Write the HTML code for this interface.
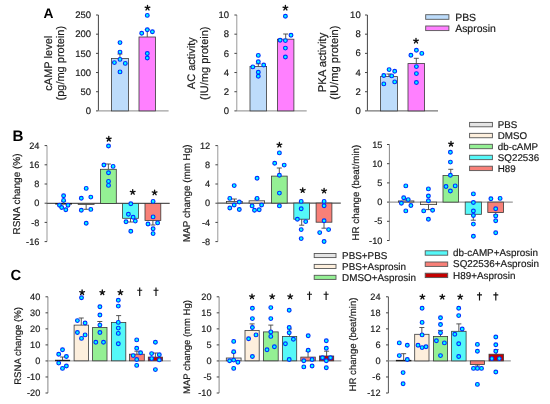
<!DOCTYPE html>
<html><head><meta charset="utf-8"><style>
html,body{margin:0;padding:0;background:#fff;}
body{width:550px;height:404px;overflow:hidden;}
svg{display:block;will-change:transform;}
text{font-family:"Liberation Sans", sans-serif;text-rendering:geometricPrecision;}
</style></head><body>
<svg width="550" height="404" viewBox="0 0 550 404" font-family='"Liberation Sans", sans-serif'>
<rect width="550" height="404" fill="#fff"/>
<text x="43.6" y="17.7" font-size="13.8" text-anchor="start" font-weight="bold" fill="#000" stroke="#000" stroke-width="0">A</text>
<text x="12.4" y="140.7" font-size="15.2" text-anchor="start" font-weight="bold" fill="#000" stroke="#000" stroke-width="0">B</text>
<text x="10.6" y="279.7" font-size="14.8" text-anchor="start" font-weight="bold" fill="#000" stroke="#000" stroke-width="0">C</text>
<line x1="98.4" y1="15.0" x2="98.4" y2="110.9" stroke="#444" stroke-width="1"/>
<line x1="96.0" y1="15.00" x2="98.4" y2="15.00" stroke="#444" stroke-width="1"/>
<text x="91.1" y="18.22" font-size="9.5" text-anchor="end" fill="#1a1a1a" stroke="#1a1a1a" stroke-width="0.18">250</text>
<line x1="96.0" y1="34.18" x2="98.4" y2="34.18" stroke="#444" stroke-width="1"/>
<text x="91.1" y="37.41" font-size="9.5" text-anchor="end" fill="#1a1a1a" stroke="#1a1a1a" stroke-width="0.18">200</text>
<line x1="96.0" y1="53.36" x2="98.4" y2="53.36" stroke="#444" stroke-width="1"/>
<text x="91.1" y="56.59" font-size="9.5" text-anchor="end" fill="#1a1a1a" stroke="#1a1a1a" stroke-width="0.18">150</text>
<line x1="96.0" y1="72.54" x2="98.4" y2="72.54" stroke="#444" stroke-width="1"/>
<text x="91.1" y="75.77" font-size="9.5" text-anchor="end" fill="#1a1a1a" stroke="#1a1a1a" stroke-width="0.18">100</text>
<line x1="96.0" y1="91.72" x2="98.4" y2="91.72" stroke="#444" stroke-width="1"/>
<text x="91.1" y="94.95" font-size="9.5" text-anchor="end" fill="#1a1a1a" stroke="#1a1a1a" stroke-width="0.18">50</text>
<line x1="96.0" y1="110.90" x2="98.4" y2="110.90" stroke="#444" stroke-width="1"/>
<text x="91.1" y="114.13" font-size="9.5" text-anchor="end" fill="#1a1a1a" stroke="#1a1a1a" stroke-width="0.18">0</text>
<line x1="98.4" y1="110.9" x2="168.6" y2="110.9" stroke="#a0a0a0" stroke-width="1.2"/>
<rect x="111.5" y="58.4" width="16.900000000000006" height="52.50" fill="#bddcfb" stroke="#3a3a3a" stroke-width="0.8"/>
<line x1="119.95" y1="58.4" x2="119.95" y2="54.0" stroke="#444" stroke-width="0.9"/>
<line x1="117.45" y1="54.0" x2="122.45" y2="54.0" stroke="#444" stroke-width="0.9"/>
<rect x="139.0" y="37.0" width="16.5" height="73.90" fill="#ff80ff" stroke="#3a3a3a" stroke-width="0.8"/>
<line x1="147.25" y1="37.0" x2="147.25" y2="29.7" stroke="#444" stroke-width="0.9"/>
<line x1="144.75" y1="29.7" x2="149.75" y2="29.7" stroke="#444" stroke-width="0.9"/>
<circle cx="120" cy="42.6" r="1.88" fill="#00ffff" stroke="#0030ff" stroke-width="1.15"/>
<circle cx="120" cy="52.1" r="1.88" fill="#00ffff" stroke="#0030ff" stroke-width="1.15"/>
<circle cx="120" cy="59.4" r="1.88" fill="#00ffff" stroke="#0030ff" stroke-width="1.15"/>
<circle cx="114.4" cy="62.6" r="1.88" fill="#00ffff" stroke="#0030ff" stroke-width="1.15"/>
<circle cx="125.3" cy="63.4" r="1.88" fill="#00ffff" stroke="#0030ff" stroke-width="1.15"/>
<circle cx="120" cy="71.9" r="1.88" fill="#00ffff" stroke="#0030ff" stroke-width="1.15"/>
<circle cx="147.3" cy="15.4" r="1.88" fill="#00ffff" stroke="#0030ff" stroke-width="1.15"/>
<circle cx="147.3" cy="29.7" r="1.88" fill="#00ffff" stroke="#0030ff" stroke-width="1.15"/>
<circle cx="141.7" cy="33.3" r="1.88" fill="#00ffff" stroke="#0030ff" stroke-width="1.15"/>
<circle cx="152.4" cy="31.7" r="1.88" fill="#00ffff" stroke="#0030ff" stroke-width="1.15"/>
<circle cx="147.3" cy="53.5" r="1.88" fill="#00ffff" stroke="#0030ff" stroke-width="1.15"/>
<circle cx="147.3" cy="58" r="1.88" fill="#00ffff" stroke="#0030ff" stroke-width="1.15"/>
<path d="M147.50 7.90L147.50 5.40M147.50 7.90L149.88 7.13M147.50 7.90L148.97 9.92M147.50 7.90L146.03 9.92M147.50 7.90L145.12 7.13" stroke="#111" stroke-width="1.35" stroke-linecap="round" fill="none"/>
<text x="51.6" y="63.2" font-size="11" text-anchor="middle" fill="#1a1a1a" stroke="#1a1a1a" stroke-width="0.18" transform="rotate(-90 51.6 63.2)">cAMP level</text>
<text x="63.8" y="63.2" font-size="11" text-anchor="middle" fill="#1a1a1a" stroke="#1a1a1a" stroke-width="0.18" transform="rotate(-90 63.8 63.2)">(pg/mg protein)</text>
<line x1="236.8" y1="15.0" x2="236.8" y2="110.9" stroke="#999" stroke-width="1"/>
<line x1="234.4" y1="15.00" x2="236.8" y2="15.00" stroke="#444" stroke-width="1"/>
<text x="229.1" y="18.22" font-size="9.5" text-anchor="end" fill="#1a1a1a" stroke="#1a1a1a" stroke-width="0.18">10</text>
<line x1="234.4" y1="34.18" x2="236.8" y2="34.18" stroke="#444" stroke-width="1"/>
<text x="229.1" y="37.41" font-size="9.5" text-anchor="end" fill="#1a1a1a" stroke="#1a1a1a" stroke-width="0.18">8</text>
<line x1="234.4" y1="53.36" x2="236.8" y2="53.36" stroke="#444" stroke-width="1"/>
<text x="229.1" y="56.59" font-size="9.5" text-anchor="end" fill="#1a1a1a" stroke="#1a1a1a" stroke-width="0.18">6</text>
<line x1="234.4" y1="72.54" x2="236.8" y2="72.54" stroke="#444" stroke-width="1"/>
<text x="229.1" y="75.77" font-size="9.5" text-anchor="end" fill="#1a1a1a" stroke="#1a1a1a" stroke-width="0.18">4</text>
<line x1="234.4" y1="91.72" x2="236.8" y2="91.72" stroke="#444" stroke-width="1"/>
<text x="229.1" y="94.95" font-size="9.5" text-anchor="end" fill="#1a1a1a" stroke="#1a1a1a" stroke-width="0.18">2</text>
<line x1="234.4" y1="110.90" x2="236.8" y2="110.90" stroke="#444" stroke-width="1"/>
<text x="229.1" y="114.13" font-size="9.5" text-anchor="end" fill="#1a1a1a" stroke="#1a1a1a" stroke-width="0.18">0</text>
<line x1="236.8" y1="110.9" x2="306.7" y2="110.9" stroke="#a0a0a0" stroke-width="1.2"/>
<rect x="250.0" y="66.5" width="16.600000000000023" height="44.40" fill="#bddcfb" stroke="#3a3a3a" stroke-width="0.8"/>
<line x1="258.3" y1="66.5" x2="258.3" y2="63.8" stroke="#444" stroke-width="0.9"/>
<line x1="255.8" y1="63.8" x2="260.8" y2="63.8" stroke="#444" stroke-width="0.9"/>
<rect x="277.5" y="39.2" width="16.399999999999977" height="71.70" fill="#ff80ff" stroke="#3a3a3a" stroke-width="0.8"/>
<line x1="285.7" y1="39.2" x2="285.7" y2="34.0" stroke="#444" stroke-width="0.9"/>
<line x1="283.2" y1="34.0" x2="288.2" y2="34.0" stroke="#444" stroke-width="0.9"/>
<circle cx="258.3" cy="55.4" r="1.88" fill="#00ffff" stroke="#0030ff" stroke-width="1.15"/>
<circle cx="258.3" cy="61.8" r="1.88" fill="#00ffff" stroke="#0030ff" stroke-width="1.15"/>
<circle cx="252.8" cy="66.9" r="1.88" fill="#00ffff" stroke="#0030ff" stroke-width="1.15"/>
<circle cx="263.7" cy="65" r="1.88" fill="#00ffff" stroke="#0030ff" stroke-width="1.15"/>
<circle cx="258.3" cy="72.3" r="1.88" fill="#00ffff" stroke="#0030ff" stroke-width="1.15"/>
<circle cx="258.3" cy="76.2" r="1.88" fill="#00ffff" stroke="#0030ff" stroke-width="1.15"/>
<circle cx="285.4" cy="16.2" r="1.88" fill="#00ffff" stroke="#0030ff" stroke-width="1.15"/>
<circle cx="291" cy="35.2" r="1.88" fill="#00ffff" stroke="#0030ff" stroke-width="1.15"/>
<circle cx="280.1" cy="40.2" r="1.88" fill="#00ffff" stroke="#0030ff" stroke-width="1.15"/>
<circle cx="285.4" cy="40.6" r="1.88" fill="#00ffff" stroke="#0030ff" stroke-width="1.15"/>
<circle cx="285.4" cy="48.1" r="1.88" fill="#00ffff" stroke="#0030ff" stroke-width="1.15"/>
<circle cx="285.4" cy="57" r="1.88" fill="#00ffff" stroke="#0030ff" stroke-width="1.15"/>
<path d="M285.40 7.90L285.40 5.40M285.40 7.90L287.78 7.13M285.40 7.90L286.87 9.92M285.40 7.90L283.93 9.92M285.40 7.90L283.02 7.13" stroke="#111" stroke-width="1.35" stroke-linecap="round" fill="none"/>
<text x="195.5" y="63.2" font-size="11" text-anchor="middle" fill="#1a1a1a" stroke="#1a1a1a" stroke-width="0.18" transform="rotate(-90 195.5 63.2)">AC activity</text>
<text x="208.4" y="63.2" font-size="11" text-anchor="middle" fill="#1a1a1a" stroke="#1a1a1a" stroke-width="0.18" transform="rotate(-90 208.4 63.2)">(IU/mg protein)</text>
<line x1="367.4" y1="15.0" x2="367.4" y2="110.9" stroke="#444" stroke-width="1"/>
<line x1="365.0" y1="15.00" x2="367.4" y2="15.00" stroke="#444" stroke-width="1"/>
<text x="360.7" y="18.02" font-size="9.5" text-anchor="end" fill="#1a1a1a" stroke="#1a1a1a" stroke-width="0.18">10</text>
<line x1="365.0" y1="34.18" x2="367.4" y2="34.18" stroke="#444" stroke-width="1"/>
<text x="360.7" y="37.2" font-size="9.5" text-anchor="end" fill="#1a1a1a" stroke="#1a1a1a" stroke-width="0.18">8</text>
<line x1="365.0" y1="53.36" x2="367.4" y2="53.36" stroke="#444" stroke-width="1"/>
<text x="360.7" y="56.38" font-size="9.5" text-anchor="end" fill="#1a1a1a" stroke="#1a1a1a" stroke-width="0.18">6</text>
<line x1="365.0" y1="72.54" x2="367.4" y2="72.54" stroke="#444" stroke-width="1"/>
<text x="360.7" y="75.56" font-size="9.5" text-anchor="end" fill="#1a1a1a" stroke="#1a1a1a" stroke-width="0.18">4</text>
<line x1="365.0" y1="91.72" x2="367.4" y2="91.72" stroke="#444" stroke-width="1"/>
<text x="360.7" y="94.75" font-size="9.5" text-anchor="end" fill="#1a1a1a" stroke="#1a1a1a" stroke-width="0.18">2</text>
<line x1="365.0" y1="110.90" x2="367.4" y2="110.90" stroke="#444" stroke-width="1"/>
<text x="360.7" y="113.93" font-size="9.5" text-anchor="end" fill="#1a1a1a" stroke="#1a1a1a" stroke-width="0.18">0</text>
<line x1="367.4" y1="110.9" x2="438.0" y2="110.9" stroke="#777" stroke-width="1.2"/>
<rect x="380.5" y="76.6" width="16.899999999999977" height="34.30" fill="#bddcfb" stroke="#3a3a3a" stroke-width="0.8"/>
<line x1="388.95" y1="76.6" x2="388.95" y2="74.0" stroke="#444" stroke-width="0.9"/>
<line x1="386.45" y1="74.0" x2="391.45" y2="74.0" stroke="#444" stroke-width="0.9"/>
<rect x="408.0" y="63.6" width="16.600000000000023" height="47.30" fill="#ff80ff" stroke="#3a3a3a" stroke-width="0.8"/>
<line x1="416.3" y1="63.6" x2="416.3" y2="58.3" stroke="#444" stroke-width="0.9"/>
<line x1="413.8" y1="58.3" x2="418.8" y2="58.3" stroke="#444" stroke-width="0.9"/>
<circle cx="389.1" cy="69.6" r="1.88" fill="#00ffff" stroke="#0030ff" stroke-width="1.15"/>
<circle cx="394.7" cy="71.2" r="1.88" fill="#00ffff" stroke="#0030ff" stroke-width="1.15"/>
<circle cx="383.8" cy="75.5" r="1.88" fill="#00ffff" stroke="#0030ff" stroke-width="1.15"/>
<circle cx="391.7" cy="75.9" r="1.88" fill="#00ffff" stroke="#0030ff" stroke-width="1.15"/>
<circle cx="394.7" cy="81.9" r="1.88" fill="#00ffff" stroke="#0030ff" stroke-width="1.15"/>
<circle cx="383.8" cy="83.9" r="1.88" fill="#00ffff" stroke="#0030ff" stroke-width="1.15"/>
<circle cx="416.4" cy="50.2" r="1.88" fill="#00ffff" stroke="#0030ff" stroke-width="1.15"/>
<circle cx="421.8" cy="53.4" r="1.88" fill="#00ffff" stroke="#0030ff" stroke-width="1.15"/>
<circle cx="410.9" cy="55.3" r="1.88" fill="#00ffff" stroke="#0030ff" stroke-width="1.15"/>
<circle cx="416.4" cy="66.6" r="1.88" fill="#00ffff" stroke="#0030ff" stroke-width="1.15"/>
<circle cx="416.4" cy="73.6" r="1.88" fill="#00ffff" stroke="#0030ff" stroke-width="1.15"/>
<circle cx="416.4" cy="82.5" r="1.88" fill="#00ffff" stroke="#0030ff" stroke-width="1.15"/>
<path d="M416.00 40.90L416.00 38.40M416.00 40.90L418.38 40.13M416.00 40.90L417.47 42.92M416.00 40.90L414.53 42.92M416.00 40.90L413.62 40.13" stroke="#111" stroke-width="1.35" stroke-linecap="round" fill="none"/>
<text x="326.2" y="62.5" font-size="11.3" text-anchor="middle" fill="#1a1a1a" stroke="#1a1a1a" stroke-width="0.18" transform="rotate(-90 326.2 62.5)">PKA activity</text>
<text x="338.1" y="62.6" font-size="11.15" text-anchor="middle" fill="#1a1a1a" stroke="#1a1a1a" stroke-width="0.18" transform="rotate(-90 338.1 62.6)">(IU/mg protein)</text>
<rect x="425.7" y="14.7" width="23.2" height="4.6" fill="#bddcfb" stroke="#555" stroke-width="0.9"/>
<text x="455.2" y="20.7" font-size="10.45" text-anchor="start" fill="#1a1a1a" stroke="#1a1a1a" stroke-width="0.18">PBS</text>
<rect x="425.7" y="26.0" width="23.2" height="4.6" fill="#ff80ff" stroke="#555" stroke-width="0.9"/>
<text x="455.2" y="32.0" font-size="10.45" text-anchor="start" fill="#1a1a1a" stroke="#1a1a1a" stroke-width="0.18">Asprosin</text>
<line x1="47.0" y1="145.6" x2="47.0" y2="241.6" stroke="#999" stroke-width="1"/>
<line x1="44.6" y1="145.60" x2="47.0" y2="145.60" stroke="#444" stroke-width="1"/>
<text x="39.4" y="148.72" font-size="9.2" text-anchor="end" fill="#1a1a1a" stroke="#1a1a1a" stroke-width="0.18">24</text>
<line x1="44.6" y1="164.80" x2="47.0" y2="164.80" stroke="#444" stroke-width="1"/>
<text x="39.4" y="167.92" font-size="9.2" text-anchor="end" fill="#1a1a1a" stroke="#1a1a1a" stroke-width="0.18">16</text>
<line x1="44.6" y1="184.00" x2="47.0" y2="184.00" stroke="#444" stroke-width="1"/>
<text x="39.4" y="187.12" font-size="9.2" text-anchor="end" fill="#1a1a1a" stroke="#1a1a1a" stroke-width="0.18">8</text>
<line x1="44.6" y1="203.20" x2="47.0" y2="203.20" stroke="#444" stroke-width="1"/>
<text x="39.4" y="206.32" font-size="9.2" text-anchor="end" fill="#1a1a1a" stroke="#1a1a1a" stroke-width="0.18">0</text>
<line x1="44.6" y1="222.40" x2="47.0" y2="222.40" stroke="#444" stroke-width="1"/>
<text x="39.4" y="225.52" font-size="9.2" text-anchor="end" fill="#1a1a1a" stroke="#1a1a1a" stroke-width="0.18">-8</text>
<line x1="44.6" y1="241.60" x2="47.0" y2="241.60" stroke="#444" stroke-width="1"/>
<text x="39.4" y="244.72" font-size="9.2" text-anchor="end" fill="#1a1a1a" stroke="#1a1a1a" stroke-width="0.18">-16</text>
<line x1="47.0" y1="203.4" x2="169.7" y2="203.4" stroke="#555" stroke-width="1.2"/>
<rect x="55.6" y="203.4" width="15.999999999999993" height="0.70" fill="#e4e4e4" stroke="#1a1a1a" stroke-width="0.8"/>
<line x1="63.599999999999994" y1="204.1" x2="63.599999999999994" y2="201.2" stroke="#444" stroke-width="0.9"/>
<line x1="61.099999999999994" y1="201.2" x2="66.1" y2="201.2" stroke="#444" stroke-width="0.9"/>
<rect x="78.2" y="203.4" width="15.899999999999991" height="1.00" fill="#fdefdd" stroke="#3a3a3a" stroke-width="0.8"/>
<line x1="86.15" y1="204.4" x2="86.15" y2="209.3" stroke="#444" stroke-width="0.9"/>
<line x1="83.65" y1="209.3" x2="88.65" y2="209.3" stroke="#444" stroke-width="0.9"/>
<rect x="100.4" y="169.3" width="15.899999999999991" height="34.10" fill="#94f094" stroke="#3a3a3a" stroke-width="0.8"/>
<line x1="108.35" y1="169.3" x2="108.35" y2="164.0" stroke="#444" stroke-width="0.9"/>
<line x1="105.85" y1="164.0" x2="110.85" y2="164.0" stroke="#444" stroke-width="0.9"/>
<rect x="122.6" y="203.4" width="15.900000000000006" height="14.90" fill="#55f8f8" stroke="#3a3a3a" stroke-width="0.8"/>
<line x1="130.55" y1="218.3" x2="130.55" y2="222.0" stroke="#444" stroke-width="0.9"/>
<line x1="128.05" y1="222.0" x2="133.05" y2="222.0" stroke="#444" stroke-width="0.9"/>
<rect x="145.0" y="203.4" width="15.800000000000011" height="17.20" fill="#f88078" stroke="#3a3a3a" stroke-width="0.8"/>
<line x1="152.9" y1="220.6" x2="152.9" y2="225.0" stroke="#444" stroke-width="0.9"/>
<line x1="150.4" y1="225.0" x2="155.4" y2="225.0" stroke="#444" stroke-width="0.9"/>
<circle cx="63.6" cy="195.8" r="1.88" fill="#00ffff" stroke="#0030ff" stroke-width="1.15"/>
<circle cx="63.6" cy="200.4" r="1.88" fill="#00ffff" stroke="#0030ff" stroke-width="1.15"/>
<circle cx="59.5" cy="205.3" r="1.88" fill="#00ffff" stroke="#0030ff" stroke-width="1.15"/>
<circle cx="68" cy="205.3" r="1.88" fill="#00ffff" stroke="#0030ff" stroke-width="1.15"/>
<circle cx="61.7" cy="207.5" r="1.88" fill="#00ffff" stroke="#0030ff" stroke-width="1.15"/>
<circle cx="65.8" cy="209.7" r="1.88" fill="#00ffff" stroke="#0030ff" stroke-width="1.15"/>
<circle cx="86.2" cy="188.4" r="1.88" fill="#00ffff" stroke="#0030ff" stroke-width="1.15"/>
<circle cx="81.3" cy="198.2" r="1.88" fill="#00ffff" stroke="#0030ff" stroke-width="1.15"/>
<circle cx="90.8" cy="197.1" r="1.88" fill="#00ffff" stroke="#0030ff" stroke-width="1.15"/>
<circle cx="81.3" cy="210.2" r="1.88" fill="#00ffff" stroke="#0030ff" stroke-width="1.15"/>
<circle cx="90.8" cy="209.4" r="1.88" fill="#00ffff" stroke="#0030ff" stroke-width="1.15"/>
<circle cx="86.2" cy="223.3" r="1.88" fill="#00ffff" stroke="#0030ff" stroke-width="1.15"/>
<circle cx="108.5" cy="146" r="1.88" fill="#00ffff" stroke="#0030ff" stroke-width="1.15"/>
<circle cx="103.9" cy="165" r="1.88" fill="#00ffff" stroke="#0030ff" stroke-width="1.15"/>
<circle cx="113.1" cy="166.4" r="1.88" fill="#00ffff" stroke="#0030ff" stroke-width="1.15"/>
<circle cx="108.5" cy="172.7" r="1.88" fill="#00ffff" stroke="#0030ff" stroke-width="1.15"/>
<circle cx="108.5" cy="181.4" r="1.88" fill="#00ffff" stroke="#0030ff" stroke-width="1.15"/>
<circle cx="108.5" cy="185.4" r="1.88" fill="#00ffff" stroke="#0030ff" stroke-width="1.15"/>
<circle cx="130.8" cy="203.8" r="1.88" fill="#00ffff" stroke="#0030ff" stroke-width="1.15"/>
<circle cx="128.4" cy="214.3" r="1.88" fill="#00ffff" stroke="#0030ff" stroke-width="1.15"/>
<circle cx="133.1" cy="217.3" r="1.88" fill="#00ffff" stroke="#0030ff" stroke-width="1.15"/>
<circle cx="126.0" cy="221.8" r="1.88" fill="#00ffff" stroke="#0030ff" stroke-width="1.15"/>
<circle cx="135.3" cy="221.1" r="1.88" fill="#00ffff" stroke="#0030ff" stroke-width="1.15"/>
<circle cx="130.8" cy="231.2" r="1.88" fill="#00ffff" stroke="#0030ff" stroke-width="1.15"/>
<circle cx="153.1" cy="201.4" r="1.88" fill="#00ffff" stroke="#0030ff" stroke-width="1.15"/>
<circle cx="153.1" cy="216.9" r="1.88" fill="#00ffff" stroke="#0030ff" stroke-width="1.15"/>
<circle cx="148" cy="224" r="1.88" fill="#00ffff" stroke="#0030ff" stroke-width="1.15"/>
<circle cx="157.6" cy="222.9" r="1.88" fill="#00ffff" stroke="#0030ff" stroke-width="1.15"/>
<circle cx="153.1" cy="228.8" r="1.88" fill="#00ffff" stroke="#0030ff" stroke-width="1.15"/>
<circle cx="153.1" cy="233.6" r="1.88" fill="#00ffff" stroke="#0030ff" stroke-width="1.15"/>
<path d="M108.80 139.00L108.80 136.50M108.80 139.00L111.18 138.23M108.80 139.00L110.27 141.02M108.80 139.00L107.33 141.02M108.80 139.00L106.42 138.23" stroke="#111" stroke-width="1.35" stroke-linecap="round" fill="none"/>
<path d="M132.70 192.20L132.70 189.70M132.70 192.20L135.08 191.43M132.70 192.20L134.17 194.22M132.70 192.20L131.23 194.22M132.70 192.20L130.32 191.43" stroke="#111" stroke-width="1.35" stroke-linecap="round" fill="none"/>
<path d="M154.60 192.70L154.60 190.20M154.60 192.70L156.98 191.93M154.60 192.70L156.07 194.72M154.60 192.70L153.13 194.72M154.60 192.70L152.22 191.93" stroke="#111" stroke-width="1.35" stroke-linecap="round" fill="none"/>
<text x="20.0" y="194.0" font-size="10" text-anchor="middle" fill="#1a1a1a" stroke="#1a1a1a" stroke-width="0.18" transform="rotate(-90 20.0 194.0)">RSNA change (%)</text>
<line x1="217.8" y1="145.6" x2="217.8" y2="241.6" stroke="#999" stroke-width="1"/>
<line x1="215.4" y1="145.60" x2="217.8" y2="145.60" stroke="#444" stroke-width="1"/>
<text x="210.2" y="148.72" font-size="9.2" text-anchor="end" fill="#1a1a1a" stroke="#1a1a1a" stroke-width="0.18">12</text>
<line x1="215.4" y1="164.80" x2="217.8" y2="164.80" stroke="#444" stroke-width="1"/>
<text x="210.2" y="167.92" font-size="9.2" text-anchor="end" fill="#1a1a1a" stroke="#1a1a1a" stroke-width="0.18">8</text>
<line x1="215.4" y1="184.00" x2="217.8" y2="184.00" stroke="#444" stroke-width="1"/>
<text x="210.2" y="187.12" font-size="9.2" text-anchor="end" fill="#1a1a1a" stroke="#1a1a1a" stroke-width="0.18">4</text>
<line x1="215.4" y1="203.20" x2="217.8" y2="203.20" stroke="#444" stroke-width="1"/>
<text x="210.2" y="206.32" font-size="9.2" text-anchor="end" fill="#1a1a1a" stroke="#1a1a1a" stroke-width="0.18">0</text>
<line x1="215.4" y1="222.40" x2="217.8" y2="222.40" stroke="#444" stroke-width="1"/>
<text x="210.2" y="225.52" font-size="9.2" text-anchor="end" fill="#1a1a1a" stroke="#1a1a1a" stroke-width="0.18">-4</text>
<line x1="215.4" y1="241.60" x2="217.8" y2="241.60" stroke="#444" stroke-width="1"/>
<text x="210.2" y="244.72" font-size="9.2" text-anchor="end" fill="#1a1a1a" stroke="#1a1a1a" stroke-width="0.18">-8</text>
<line x1="217.8" y1="203.1" x2="340.8" y2="203.1" stroke="#555" stroke-width="1.2"/>
<rect x="226.5" y="201.4" width="15.800000000000011" height="1.70" fill="#e4e4e4" stroke="#3a3a3a" stroke-width="0.8"/>
<line x1="234.4" y1="201.4" x2="234.4" y2="199.0" stroke="#444" stroke-width="0.9"/>
<line x1="231.9" y1="199.0" x2="236.9" y2="199.0" stroke="#444" stroke-width="0.9"/>
<rect x="249.1" y="200.8" width="15.500000000000028" height="2.30" fill="#fdefdd" stroke="#3a3a3a" stroke-width="0.8"/>
<line x1="256.85" y1="200.8" x2="256.85" y2="199.0" stroke="#444" stroke-width="0.9"/>
<line x1="254.35000000000002" y1="199.0" x2="259.35" y2="199.0" stroke="#444" stroke-width="0.9"/>
<rect x="271.4" y="176.1" width="15.800000000000011" height="27.00" fill="#94f094" stroke="#3a3a3a" stroke-width="0.8"/>
<line x1="279.29999999999995" y1="176.1" x2="279.29999999999995" y2="168.0" stroke="#444" stroke-width="0.9"/>
<line x1="276.79999999999995" y1="168.0" x2="281.79999999999995" y2="168.0" stroke="#444" stroke-width="0.9"/>
<rect x="293.8" y="203.1" width="15.800000000000011" height="16.10" fill="#55f8f8" stroke="#3a3a3a" stroke-width="0.8"/>
<line x1="301.70000000000005" y1="219.2" x2="301.70000000000005" y2="225.2" stroke="#444" stroke-width="0.9"/>
<line x1="299.20000000000005" y1="225.2" x2="304.20000000000005" y2="225.2" stroke="#444" stroke-width="0.9"/>
<rect x="316.1" y="203.1" width="15.799999999999955" height="19.10" fill="#f88078" stroke="#3a3a3a" stroke-width="0.8"/>
<line x1="324.0" y1="222.2" x2="324.0" y2="228.2" stroke="#444" stroke-width="0.9"/>
<line x1="321.5" y1="228.2" x2="326.5" y2="228.2" stroke="#444" stroke-width="0.9"/>
<circle cx="234.2" cy="185.6" r="1.88" fill="#00ffff" stroke="#0030ff" stroke-width="1.15"/>
<circle cx="229.8" cy="198.4" r="1.88" fill="#00ffff" stroke="#0030ff" stroke-width="1.15"/>
<circle cx="239.3" cy="202" r="1.88" fill="#00ffff" stroke="#0030ff" stroke-width="1.15"/>
<circle cx="234.2" cy="205" r="1.88" fill="#00ffff" stroke="#0030ff" stroke-width="1.15"/>
<circle cx="229.8" cy="208" r="1.88" fill="#00ffff" stroke="#0030ff" stroke-width="1.15"/>
<circle cx="239.3" cy="209.5" r="1.88" fill="#00ffff" stroke="#0030ff" stroke-width="1.15"/>
<circle cx="257.1" cy="178.2" r="1.88" fill="#00ffff" stroke="#0030ff" stroke-width="1.15"/>
<circle cx="257.1" cy="198.4" r="1.88" fill="#00ffff" stroke="#0030ff" stroke-width="1.15"/>
<circle cx="252.1" cy="205.9" r="1.88" fill="#00ffff" stroke="#0030ff" stroke-width="1.15"/>
<circle cx="261.6" cy="205" r="1.88" fill="#00ffff" stroke="#0030ff" stroke-width="1.15"/>
<circle cx="254.5" cy="210.3" r="1.88" fill="#00ffff" stroke="#0030ff" stroke-width="1.15"/>
<circle cx="259.2" cy="209.8" r="1.88" fill="#00ffff" stroke="#0030ff" stroke-width="1.15"/>
<circle cx="279.4" cy="152.9" r="1.88" fill="#00ffff" stroke="#0030ff" stroke-width="1.15"/>
<circle cx="274.7" cy="163.3" r="1.88" fill="#00ffff" stroke="#0030ff" stroke-width="1.15"/>
<circle cx="284.2" cy="165.1" r="1.88" fill="#00ffff" stroke="#0030ff" stroke-width="1.15"/>
<circle cx="279.4" cy="175.2" r="1.88" fill="#00ffff" stroke="#0030ff" stroke-width="1.15"/>
<circle cx="279.4" cy="193.1" r="1.88" fill="#00ffff" stroke="#0030ff" stroke-width="1.15"/>
<circle cx="279.4" cy="205.9" r="1.88" fill="#00ffff" stroke="#0030ff" stroke-width="1.15"/>
<circle cx="301.2" cy="201.4" r="1.88" fill="#00ffff" stroke="#0030ff" stroke-width="1.15"/>
<circle cx="301.2" cy="208.8" r="1.88" fill="#00ffff" stroke="#0030ff" stroke-width="1.15"/>
<circle cx="297.4" cy="219.2" r="1.88" fill="#00ffff" stroke="#0030ff" stroke-width="1.15"/>
<circle cx="305.7" cy="221.6" r="1.88" fill="#00ffff" stroke="#0030ff" stroke-width="1.15"/>
<circle cx="301.2" cy="229.6" r="1.88" fill="#00ffff" stroke="#0030ff" stroke-width="1.15"/>
<circle cx="301.2" cy="238.6" r="1.88" fill="#00ffff" stroke="#0030ff" stroke-width="1.15"/>
<circle cx="324.1" cy="201.4" r="1.88" fill="#00ffff" stroke="#0030ff" stroke-width="1.15"/>
<circle cx="324.1" cy="205.8" r="1.88" fill="#00ffff" stroke="#0030ff" stroke-width="1.15"/>
<circle cx="324.1" cy="220.7" r="1.88" fill="#00ffff" stroke="#0030ff" stroke-width="1.15"/>
<circle cx="328.6" cy="229.6" r="1.88" fill="#00ffff" stroke="#0030ff" stroke-width="1.15"/>
<circle cx="319.7" cy="232.6" r="1.88" fill="#00ffff" stroke="#0030ff" stroke-width="1.15"/>
<circle cx="324.1" cy="241.5" r="1.88" fill="#00ffff" stroke="#0030ff" stroke-width="1.15"/>
<path d="M279.40 144.90L279.40 142.40M279.40 144.90L281.78 144.13M279.40 144.90L280.87 146.92M279.40 144.90L277.93 146.92M279.40 144.90L277.02 144.13" stroke="#111" stroke-width="1.35" stroke-linecap="round" fill="none"/>
<path d="M302.70 190.30L302.70 187.80M302.70 190.30L305.08 189.53M302.70 190.30L304.17 192.32M302.70 190.30L301.23 192.32M302.70 190.30L300.32 189.53" stroke="#111" stroke-width="1.35" stroke-linecap="round" fill="none"/>
<path d="M324.10 190.80L324.10 188.30M324.10 190.80L326.48 190.03M324.10 190.80L325.57 192.82M324.10 190.80L322.63 192.82M324.10 190.80L321.72 190.03" stroke="#111" stroke-width="1.35" stroke-linecap="round" fill="none"/>
<text x="190.0" y="193.2" font-size="9.9" text-anchor="middle" fill="#1a1a1a" stroke="#1a1a1a" stroke-width="0.18" transform="rotate(-90 190.0 193.2)">MAP change (mm Hg)</text>
<line x1="389.4" y1="144.5" x2="389.4" y2="240.5" stroke="#888" stroke-width="1"/>
<line x1="387.0" y1="144.50" x2="389.4" y2="144.50" stroke="#444" stroke-width="1"/>
<text x="382.4" y="147.62" font-size="9.2" text-anchor="end" fill="#1a1a1a" stroke="#1a1a1a" stroke-width="0.18">15</text>
<line x1="387.0" y1="163.70" x2="389.4" y2="163.70" stroke="#444" stroke-width="1"/>
<text x="382.4" y="166.82" font-size="9.2" text-anchor="end" fill="#1a1a1a" stroke="#1a1a1a" stroke-width="0.18">10</text>
<line x1="387.0" y1="182.90" x2="389.4" y2="182.90" stroke="#444" stroke-width="1"/>
<text x="382.4" y="186.02" font-size="9.2" text-anchor="end" fill="#1a1a1a" stroke="#1a1a1a" stroke-width="0.18">5</text>
<line x1="387.0" y1="202.10" x2="389.4" y2="202.10" stroke="#444" stroke-width="1"/>
<text x="382.4" y="205.22" font-size="9.2" text-anchor="end" fill="#1a1a1a" stroke="#1a1a1a" stroke-width="0.18">0</text>
<line x1="387.0" y1="221.30" x2="389.4" y2="221.30" stroke="#444" stroke-width="1"/>
<text x="382.4" y="224.42" font-size="9.2" text-anchor="end" fill="#1a1a1a" stroke="#1a1a1a" stroke-width="0.18">-5</text>
<line x1="387.0" y1="240.50" x2="389.4" y2="240.50" stroke="#444" stroke-width="1"/>
<text x="382.4" y="243.62" font-size="9.2" text-anchor="end" fill="#1a1a1a" stroke="#1a1a1a" stroke-width="0.18">-10</text>
<line x1="389.4" y1="202.1" x2="512.8" y2="202.1" stroke="#999" stroke-width="1.2"/>
<rect x="398.4" y="200.9" width="15.5" height="1.20" fill="#e4e4e4" stroke="#3a3a3a" stroke-width="0.8"/>
<line x1="406.15" y1="200.9" x2="406.15" y2="199.0" stroke="#444" stroke-width="0.9"/>
<line x1="403.65" y1="199.0" x2="408.65" y2="199.0" stroke="#444" stroke-width="0.9"/>
<rect x="420.4" y="202.1" width="16.200000000000045" height="2.50" fill="#fdefdd" stroke="#3a3a3a" stroke-width="0.8"/>
<line x1="428.5" y1="204.6" x2="428.5" y2="209.6" stroke="#444" stroke-width="0.9"/>
<line x1="426.0" y1="209.6" x2="431.0" y2="209.6" stroke="#444" stroke-width="0.9"/>
<rect x="443.0" y="175.5" width="15.5" height="26.60" fill="#94f094" stroke="#3a3a3a" stroke-width="0.8"/>
<line x1="450.75" y1="175.5" x2="450.75" y2="169.3" stroke="#444" stroke-width="0.9"/>
<line x1="448.25" y1="169.3" x2="453.25" y2="169.3" stroke="#444" stroke-width="0.9"/>
<rect x="465.2" y="202.1" width="16.19999999999999" height="12.20" fill="#55f8f8" stroke="#3a3a3a" stroke-width="0.8"/>
<line x1="473.29999999999995" y1="214.3" x2="473.29999999999995" y2="220.2" stroke="#444" stroke-width="0.9"/>
<line x1="470.79999999999995" y1="220.2" x2="475.79999999999995" y2="220.2" stroke="#444" stroke-width="0.9"/>
<rect x="487.8" y="202.1" width="15.800000000000011" height="10.40" fill="#f88078" stroke="#3a3a3a" stroke-width="0.8"/>
<line x1="495.70000000000005" y1="212.5" x2="495.70000000000005" y2="215.0" stroke="#444" stroke-width="0.9"/>
<line x1="493.20000000000005" y1="215.0" x2="498.20000000000005" y2="215.0" stroke="#444" stroke-width="0.9"/>
<circle cx="405.8" cy="185.9" r="1.88" fill="#00ffff" stroke="#0030ff" stroke-width="1.15"/>
<circle cx="403.7" cy="197.8" r="1.88" fill="#00ffff" stroke="#0030ff" stroke-width="1.15"/>
<circle cx="408.2" cy="199.6" r="1.88" fill="#00ffff" stroke="#0030ff" stroke-width="1.15"/>
<circle cx="401.4" cy="203.2" r="1.88" fill="#00ffff" stroke="#0030ff" stroke-width="1.15"/>
<circle cx="410.9" cy="205.5" r="1.88" fill="#00ffff" stroke="#0030ff" stroke-width="1.15"/>
<circle cx="405.8" cy="210.9" r="1.88" fill="#00ffff" stroke="#0030ff" stroke-width="1.15"/>
<circle cx="428.4" cy="188.9" r="1.88" fill="#00ffff" stroke="#0030ff" stroke-width="1.15"/>
<circle cx="428.4" cy="196" r="1.88" fill="#00ffff" stroke="#0030ff" stroke-width="1.15"/>
<circle cx="428.4" cy="200.8" r="1.88" fill="#00ffff" stroke="#0030ff" stroke-width="1.15"/>
<circle cx="423.7" cy="210.9" r="1.88" fill="#00ffff" stroke="#0030ff" stroke-width="1.15"/>
<circle cx="432.6" cy="210.3" r="1.88" fill="#00ffff" stroke="#0030ff" stroke-width="1.15"/>
<circle cx="428.4" cy="219.2" r="1.88" fill="#00ffff" stroke="#0030ff" stroke-width="1.15"/>
<circle cx="450.4" cy="152.3" r="1.88" fill="#00ffff" stroke="#0030ff" stroke-width="1.15"/>
<circle cx="450.4" cy="162.1" r="1.88" fill="#00ffff" stroke="#0030ff" stroke-width="1.15"/>
<circle cx="450.4" cy="175.2" r="1.88" fill="#00ffff" stroke="#0030ff" stroke-width="1.15"/>
<circle cx="446" cy="186.5" r="1.88" fill="#00ffff" stroke="#0030ff" stroke-width="1.15"/>
<circle cx="455.2" cy="185.9" r="1.88" fill="#00ffff" stroke="#0030ff" stroke-width="1.15"/>
<circle cx="450.4" cy="191" r="1.88" fill="#00ffff" stroke="#0030ff" stroke-width="1.15"/>
<circle cx="473.4" cy="193.9" r="1.88" fill="#00ffff" stroke="#0030ff" stroke-width="1.15"/>
<circle cx="473.4" cy="202.5" r="1.88" fill="#00ffff" stroke="#0030ff" stroke-width="1.15"/>
<circle cx="473.4" cy="211" r="1.88" fill="#00ffff" stroke="#0030ff" stroke-width="1.15"/>
<circle cx="473.4" cy="215.5" r="1.88" fill="#00ffff" stroke="#0030ff" stroke-width="1.15"/>
<circle cx="473.4" cy="224.1" r="1.88" fill="#00ffff" stroke="#0030ff" stroke-width="1.15"/>
<circle cx="473.4" cy="236.3" r="1.88" fill="#00ffff" stroke="#0030ff" stroke-width="1.15"/>
<circle cx="490.9" cy="198.7" r="1.88" fill="#00ffff" stroke="#0030ff" stroke-width="1.15"/>
<circle cx="500.1" cy="198.4" r="1.88" fill="#00ffff" stroke="#0030ff" stroke-width="1.15"/>
<circle cx="495.7" cy="208.8" r="1.88" fill="#00ffff" stroke="#0030ff" stroke-width="1.15"/>
<circle cx="495.7" cy="215.9" r="1.88" fill="#00ffff" stroke="#0030ff" stroke-width="1.15"/>
<circle cx="495.7" cy="220.7" r="1.88" fill="#00ffff" stroke="#0030ff" stroke-width="1.15"/>
<circle cx="495.7" cy="232.8" r="1.88" fill="#00ffff" stroke="#0030ff" stroke-width="1.15"/>
<path d="M451.00 144.00L451.00 141.50M451.00 144.00L453.38 143.23M451.00 144.00L452.47 146.02M451.00 144.00L449.53 146.02M451.00 144.00L448.62 143.23" stroke="#111" stroke-width="1.35" stroke-linecap="round" fill="none"/>
<text x="359.4" y="192.6" font-size="9.8" text-anchor="middle" fill="#1a1a1a" stroke="#1a1a1a" stroke-width="0.18" transform="rotate(-90 359.4 192.6)">HR change (beat/min)</text>
<rect x="469.6" y="122.40" width="22.8" height="4.4" fill="#e4e4e4" stroke="#555" stroke-width="0.9"/>
<text x="497.8" y="127.9" font-size="9.8" text-anchor="start" fill="#1a1a1a" stroke="#1a1a1a" stroke-width="0.18">PBS</text>
<rect x="469.6" y="133.35" width="22.8" height="4.4" fill="#fdefdd" stroke="#555" stroke-width="0.9"/>
<text x="497.8" y="138.85" font-size="9.8" text-anchor="start" fill="#1a1a1a" stroke="#1a1a1a" stroke-width="0.18">DMSO</text>
<rect x="469.6" y="144.30" width="22.8" height="4.4" fill="#94f094" stroke="#555" stroke-width="0.9"/>
<text x="497.8" y="149.8" font-size="9.8" text-anchor="start" fill="#1a1a1a" stroke="#1a1a1a" stroke-width="0.18">db-cAMP</text>
<rect x="469.6" y="155.25" width="22.8" height="4.4" fill="#55f8f8" stroke="#555" stroke-width="0.9"/>
<text x="497.8" y="160.75" font-size="9.8" text-anchor="start" fill="#1a1a1a" stroke="#1a1a1a" stroke-width="0.18">SQ22536</text>
<rect x="469.6" y="166.20" width="22.8" height="4.4" fill="#f88078" stroke="#555" stroke-width="0.9"/>
<text x="497.8" y="171.7" font-size="9.8" text-anchor="start" fill="#1a1a1a" stroke="#1a1a1a" stroke-width="0.18">H89</text>
<line x1="47.9" y1="296.8" x2="47.9" y2="393.0" stroke="#888" stroke-width="1"/>
<line x1="45.5" y1="296.80" x2="47.9" y2="296.80" stroke="#444" stroke-width="1"/>
<text x="40.3" y="299.92" font-size="9.2" text-anchor="end" fill="#1a1a1a" stroke="#1a1a1a" stroke-width="0.18">40</text>
<line x1="45.5" y1="312.83" x2="47.9" y2="312.83" stroke="#444" stroke-width="1"/>
<text x="40.3" y="315.95" font-size="9.2" text-anchor="end" fill="#1a1a1a" stroke="#1a1a1a" stroke-width="0.18">30</text>
<line x1="45.5" y1="328.87" x2="47.9" y2="328.87" stroke="#444" stroke-width="1"/>
<text x="40.3" y="331.99" font-size="9.2" text-anchor="end" fill="#1a1a1a" stroke="#1a1a1a" stroke-width="0.18">20</text>
<line x1="45.5" y1="344.90" x2="47.9" y2="344.90" stroke="#444" stroke-width="1"/>
<text x="40.3" y="348.02" font-size="9.2" text-anchor="end" fill="#1a1a1a" stroke="#1a1a1a" stroke-width="0.18">10</text>
<line x1="45.5" y1="360.93" x2="47.9" y2="360.93" stroke="#444" stroke-width="1"/>
<text x="40.3" y="364.05" font-size="9.2" text-anchor="end" fill="#1a1a1a" stroke="#1a1a1a" stroke-width="0.18">0</text>
<line x1="45.5" y1="376.97" x2="47.9" y2="376.97" stroke="#444" stroke-width="1"/>
<text x="40.3" y="380.09" font-size="9.2" text-anchor="end" fill="#1a1a1a" stroke="#1a1a1a" stroke-width="0.18">-10</text>
<line x1="45.5" y1="393.00" x2="47.9" y2="393.00" stroke="#444" stroke-width="1"/>
<text x="40.3" y="396.12" font-size="9.2" text-anchor="end" fill="#1a1a1a" stroke="#1a1a1a" stroke-width="0.18">-20</text>
<line x1="47.9" y1="360.8" x2="170.8" y2="360.8" stroke="#aaa" stroke-width="1.2"/>
<rect x="55.4" y="360.2" width="14.300000000000004" height="0.60" fill="#e4e4e4" stroke="#1a1a1a" stroke-width="0.8"/>
<line x1="62.55" y1="360.2" x2="62.55" y2="357.0" stroke="#444" stroke-width="0.9"/>
<line x1="60.05" y1="357.0" x2="65.05" y2="357.0" stroke="#444" stroke-width="0.9"/>
<rect x="74.1" y="325.1" width="14.300000000000011" height="35.70" fill="#fdefdd" stroke="#3a3a3a" stroke-width="0.8"/>
<line x1="81.25" y1="325.1" x2="81.25" y2="318.0" stroke="#444" stroke-width="0.9"/>
<line x1="78.75" y1="318.0" x2="83.75" y2="318.0" stroke="#444" stroke-width="0.9"/>
<rect x="92.6" y="327.5" width="14.400000000000006" height="33.30" fill="#94f094" stroke="#3a3a3a" stroke-width="0.8"/>
<line x1="99.8" y1="327.5" x2="99.8" y2="321.5" stroke="#444" stroke-width="0.9"/>
<line x1="97.3" y1="321.5" x2="102.3" y2="321.5" stroke="#444" stroke-width="0.9"/>
<rect x="111.5" y="322.4" width="14.299999999999997" height="38.40" fill="#55f8f8" stroke="#3a3a3a" stroke-width="0.8"/>
<line x1="118.65" y1="322.4" x2="118.65" y2="315.6" stroke="#444" stroke-width="0.9"/>
<line x1="116.15" y1="315.6" x2="121.15" y2="315.6" stroke="#444" stroke-width="0.9"/>
<rect x="129.5" y="354.2" width="14.800000000000011" height="6.60" fill="#f88078" stroke="#3a3a3a" stroke-width="0.8"/>
<line x1="136.9" y1="354.2" x2="136.9" y2="351.2" stroke="#444" stroke-width="0.9"/>
<line x1="134.4" y1="351.2" x2="139.4" y2="351.2" stroke="#444" stroke-width="0.9"/>
<rect x="148.3" y="357.1" width="14.199999999999989" height="3.70" fill="#c40000" stroke="#3a3a3a" stroke-width="0.8"/>
<line x1="155.4" y1="357.1" x2="155.4" y2="353.0" stroke="#444" stroke-width="0.9"/>
<line x1="152.9" y1="353.0" x2="157.9" y2="353.0" stroke="#444" stroke-width="0.9"/>
<circle cx="62.5" cy="349.7" r="1.88" fill="#00ffff" stroke="#0030ff" stroke-width="1.15"/>
<circle cx="58.7" cy="354.2" r="1.88" fill="#00ffff" stroke="#0030ff" stroke-width="1.15"/>
<circle cx="66.4" cy="356.5" r="1.88" fill="#00ffff" stroke="#0030ff" stroke-width="1.15"/>
<circle cx="58.7" cy="363.1" r="1.88" fill="#00ffff" stroke="#0030ff" stroke-width="1.15"/>
<circle cx="66.4" cy="366" r="1.88" fill="#00ffff" stroke="#0030ff" stroke-width="1.15"/>
<circle cx="62.5" cy="368.4" r="1.88" fill="#00ffff" stroke="#0030ff" stroke-width="1.15"/>
<circle cx="81.5" cy="297.8" r="1.88" fill="#00ffff" stroke="#0030ff" stroke-width="1.15"/>
<circle cx="77.4" cy="320.6" r="1.88" fill="#00ffff" stroke="#0030ff" stroke-width="1.15"/>
<circle cx="85.1" cy="323" r="1.88" fill="#00ffff" stroke="#0030ff" stroke-width="1.15"/>
<circle cx="77.4" cy="332.5" r="1.88" fill="#00ffff" stroke="#0030ff" stroke-width="1.15"/>
<circle cx="85.1" cy="334.9" r="1.88" fill="#00ffff" stroke="#0030ff" stroke-width="1.15"/>
<circle cx="81.5" cy="338.4" r="1.88" fill="#00ffff" stroke="#0030ff" stroke-width="1.15"/>
<circle cx="99.9" cy="306.7" r="1.88" fill="#00ffff" stroke="#0030ff" stroke-width="1.15"/>
<circle cx="99.9" cy="315" r="1.88" fill="#00ffff" stroke="#0030ff" stroke-width="1.15"/>
<circle cx="99.9" cy="325.1" r="1.88" fill="#00ffff" stroke="#0030ff" stroke-width="1.15"/>
<circle cx="99.9" cy="332.5" r="1.88" fill="#00ffff" stroke="#0030ff" stroke-width="1.15"/>
<circle cx="95.8" cy="342.3" r="1.88" fill="#00ffff" stroke="#0030ff" stroke-width="1.15"/>
<circle cx="103.5" cy="342.3" r="1.88" fill="#00ffff" stroke="#0030ff" stroke-width="1.15"/>
<circle cx="118.3" cy="300.2" r="1.88" fill="#00ffff" stroke="#0030ff" stroke-width="1.15"/>
<circle cx="118.3" cy="306.1" r="1.88" fill="#00ffff" stroke="#0030ff" stroke-width="1.15"/>
<circle cx="118.3" cy="322.4" r="1.88" fill="#00ffff" stroke="#0030ff" stroke-width="1.15"/>
<circle cx="118.3" cy="328.1" r="1.88" fill="#00ffff" stroke="#0030ff" stroke-width="1.15"/>
<circle cx="118.3" cy="333.4" r="1.88" fill="#00ffff" stroke="#0030ff" stroke-width="1.15"/>
<circle cx="118.3" cy="343.8" r="1.88" fill="#00ffff" stroke="#0030ff" stroke-width="1.15"/>
<circle cx="136.7" cy="339.9" r="1.88" fill="#00ffff" stroke="#0030ff" stroke-width="1.15"/>
<circle cx="136.7" cy="348.2" r="1.88" fill="#00ffff" stroke="#0030ff" stroke-width="1.15"/>
<circle cx="140.6" cy="352.7" r="1.88" fill="#00ffff" stroke="#0030ff" stroke-width="1.15"/>
<circle cx="133.2" cy="355.6" r="1.88" fill="#00ffff" stroke="#0030ff" stroke-width="1.15"/>
<circle cx="136.7" cy="359.5" r="1.88" fill="#00ffff" stroke="#0030ff" stroke-width="1.15"/>
<circle cx="136.7" cy="365.4" r="1.88" fill="#00ffff" stroke="#0030ff" stroke-width="1.15"/>
<circle cx="155.4" cy="342.3" r="1.88" fill="#00ffff" stroke="#0030ff" stroke-width="1.15"/>
<circle cx="151.6" cy="353.6" r="1.88" fill="#00ffff" stroke="#0030ff" stroke-width="1.15"/>
<circle cx="159.3" cy="354.8" r="1.88" fill="#00ffff" stroke="#0030ff" stroke-width="1.15"/>
<circle cx="151.7" cy="358.6" r="1.88" fill="#00ffff" stroke="#0030ff" stroke-width="1.15"/>
<circle cx="159.3" cy="359.9" r="1.88" fill="#00ffff" stroke="#0030ff" stroke-width="1.15"/>
<circle cx="155.4" cy="369.6" r="1.88" fill="#00ffff" stroke="#0030ff" stroke-width="1.15"/>
<path d="M82.10 292.50L82.10 290.00M82.10 292.50L84.48 291.73M82.10 292.50L83.57 294.52M82.10 292.50L80.63 294.52M82.10 292.50L79.72 291.73" stroke="#111" stroke-width="1.35" stroke-linecap="round" fill="none"/>
<path d="M102.30 292.50L102.30 290.00M102.30 292.50L104.68 291.73M102.30 292.50L103.77 294.52M102.30 292.50L100.83 294.52M102.30 292.50L99.92 291.73" stroke="#111" stroke-width="1.35" stroke-linecap="round" fill="none"/>
<path d="M120.40 292.50L120.40 290.00M120.40 292.50L122.78 291.73M120.40 292.50L121.87 294.52M120.40 292.50L118.93 294.52M120.40 292.50L118.02 291.73" stroke="#111" stroke-width="1.35" stroke-linecap="round" fill="none"/>
<path d="M139.70 287.60V295.90M137.20 290.20H142.20" stroke="#111" stroke-width="1.15" fill="none"/>
<path d="M156.00 287.60V295.90M153.50 290.20H158.50" stroke="#111" stroke-width="1.15" fill="none"/>
<text x="21.4" y="345.9" font-size="9.6" text-anchor="middle" fill="#1a1a1a" stroke="#1a1a1a" stroke-width="0.18" transform="rotate(-90 21.4 345.9)">RSNA change (%)</text>
<line x1="219.1" y1="296.8" x2="219.1" y2="393.0" stroke="#888" stroke-width="1"/>
<line x1="216.7" y1="296.80" x2="219.1" y2="296.80" stroke="#444" stroke-width="1"/>
<text x="211.6" y="299.92" font-size="9.2" text-anchor="end" fill="#1a1a1a" stroke="#1a1a1a" stroke-width="0.18">20</text>
<line x1="216.7" y1="312.83" x2="219.1" y2="312.83" stroke="#444" stroke-width="1"/>
<text x="211.6" y="315.95" font-size="9.2" text-anchor="end" fill="#1a1a1a" stroke="#1a1a1a" stroke-width="0.18">15</text>
<line x1="216.7" y1="328.87" x2="219.1" y2="328.87" stroke="#444" stroke-width="1"/>
<text x="211.6" y="331.99" font-size="9.2" text-anchor="end" fill="#1a1a1a" stroke="#1a1a1a" stroke-width="0.18">10</text>
<line x1="216.7" y1="344.90" x2="219.1" y2="344.90" stroke="#444" stroke-width="1"/>
<text x="211.6" y="348.02" font-size="9.2" text-anchor="end" fill="#1a1a1a" stroke="#1a1a1a" stroke-width="0.18">5</text>
<line x1="216.7" y1="360.93" x2="219.1" y2="360.93" stroke="#444" stroke-width="1"/>
<text x="211.6" y="364.05" font-size="9.2" text-anchor="end" fill="#1a1a1a" stroke="#1a1a1a" stroke-width="0.18">0</text>
<line x1="216.7" y1="376.97" x2="219.1" y2="376.97" stroke="#444" stroke-width="1"/>
<text x="211.6" y="380.09" font-size="9.2" text-anchor="end" fill="#1a1a1a" stroke="#1a1a1a" stroke-width="0.18">-5</text>
<line x1="216.7" y1="393.00" x2="219.1" y2="393.00" stroke="#444" stroke-width="1"/>
<text x="211.6" y="396.12" font-size="9.2" text-anchor="end" fill="#1a1a1a" stroke="#1a1a1a" stroke-width="0.18">-10</text>
<line x1="219.1" y1="360.8" x2="341.3" y2="360.8" stroke="#999" stroke-width="1.2"/>
<rect x="226.3" y="358.0" width="14.799999999999983" height="2.80" fill="#e4e4e4" stroke="#3a3a3a" stroke-width="0.8"/>
<line x1="233.7" y1="358.0" x2="233.7" y2="352.7" stroke="#444" stroke-width="0.9"/>
<line x1="231.2" y1="352.7" x2="236.2" y2="352.7" stroke="#444" stroke-width="0.9"/>
<rect x="245.0" y="330.4" width="14.199999999999989" height="30.40" fill="#fdefdd" stroke="#3a3a3a" stroke-width="0.8"/>
<line x1="252.1" y1="330.4" x2="252.1" y2="323.9" stroke="#444" stroke-width="0.9"/>
<line x1="249.6" y1="323.9" x2="254.6" y2="323.9" stroke="#444" stroke-width="0.9"/>
<rect x="263.4" y="331.9" width="14.800000000000011" height="28.90" fill="#94f094" stroke="#3a3a3a" stroke-width="0.8"/>
<line x1="270.79999999999995" y1="331.9" x2="270.79999999999995" y2="325.1" stroke="#444" stroke-width="0.9"/>
<line x1="268.29999999999995" y1="325.1" x2="273.29999999999995" y2="325.1" stroke="#444" stroke-width="0.9"/>
<rect x="282.4" y="336.4" width="14.300000000000011" height="24.40" fill="#55f8f8" stroke="#3a3a3a" stroke-width="0.8"/>
<line x1="289.54999999999995" y1="336.4" x2="289.54999999999995" y2="329.0" stroke="#444" stroke-width="0.9"/>
<line x1="287.04999999999995" y1="329.0" x2="292.04999999999995" y2="329.0" stroke="#444" stroke-width="0.9"/>
<rect x="300.8" y="357.1" width="14.5" height="3.70" fill="#f88078" stroke="#3a3a3a" stroke-width="0.8"/>
<line x1="308.05" y1="357.1" x2="308.05" y2="351.2" stroke="#444" stroke-width="0.9"/>
<line x1="305.55" y1="351.2" x2="310.55" y2="351.2" stroke="#444" stroke-width="0.9"/>
<rect x="319.5" y="356.0" width="14.199999999999989" height="4.80" fill="#c40000" stroke="#3a3a3a" stroke-width="0.8"/>
<line x1="326.6" y1="356.0" x2="326.6" y2="351.2" stroke="#444" stroke-width="0.9"/>
<line x1="324.1" y1="351.2" x2="329.1" y2="351.2" stroke="#444" stroke-width="0.9"/>
<circle cx="233.7" cy="341.4" r="1.88" fill="#00ffff" stroke="#0030ff" stroke-width="1.15"/>
<circle cx="233.7" cy="351.8" r="1.88" fill="#00ffff" stroke="#0030ff" stroke-width="1.15"/>
<circle cx="229.6" cy="360.7" r="1.88" fill="#00ffff" stroke="#0030ff" stroke-width="1.15"/>
<circle cx="233.7" cy="360.1" r="1.88" fill="#00ffff" stroke="#0030ff" stroke-width="1.15"/>
<circle cx="237.9" cy="362.2" r="1.88" fill="#00ffff" stroke="#0030ff" stroke-width="1.15"/>
<circle cx="233.7" cy="368.4" r="1.88" fill="#00ffff" stroke="#0030ff" stroke-width="1.15"/>
<circle cx="252.4" cy="308.2" r="1.88" fill="#00ffff" stroke="#0030ff" stroke-width="1.15"/>
<circle cx="252.4" cy="318.6" r="1.88" fill="#00ffff" stroke="#0030ff" stroke-width="1.15"/>
<circle cx="252.4" cy="327.5" r="1.88" fill="#00ffff" stroke="#0030ff" stroke-width="1.15"/>
<circle cx="256" cy="334.9" r="1.88" fill="#00ffff" stroke="#0030ff" stroke-width="1.15"/>
<circle cx="248.6" cy="338.7" r="1.88" fill="#00ffff" stroke="#0030ff" stroke-width="1.15"/>
<circle cx="252.4" cy="356.5" r="1.88" fill="#00ffff" stroke="#0030ff" stroke-width="1.15"/>
<circle cx="270.8" cy="307.6" r="1.88" fill="#00ffff" stroke="#0030ff" stroke-width="1.15"/>
<circle cx="270.8" cy="318.6" r="1.88" fill="#00ffff" stroke="#0030ff" stroke-width="1.15"/>
<circle cx="270.8" cy="331.9" r="1.88" fill="#00ffff" stroke="#0030ff" stroke-width="1.15"/>
<circle cx="270.8" cy="336.4" r="1.88" fill="#00ffff" stroke="#0030ff" stroke-width="1.15"/>
<circle cx="274.4" cy="346.7" r="1.88" fill="#00ffff" stroke="#0030ff" stroke-width="1.15"/>
<circle cx="267" cy="349.7" r="1.88" fill="#00ffff" stroke="#0030ff" stroke-width="1.15"/>
<circle cx="289.2" cy="310.3" r="1.88" fill="#00ffff" stroke="#0030ff" stroke-width="1.15"/>
<circle cx="289.2" cy="327.5" r="1.88" fill="#00ffff" stroke="#0030ff" stroke-width="1.15"/>
<circle cx="289.2" cy="332.8" r="1.88" fill="#00ffff" stroke="#0030ff" stroke-width="1.15"/>
<circle cx="285.4" cy="343.8" r="1.88" fill="#00ffff" stroke="#0030ff" stroke-width="1.15"/>
<circle cx="293.4" cy="339.3" r="1.88" fill="#00ffff" stroke="#0030ff" stroke-width="1.15"/>
<circle cx="289.2" cy="359.5" r="1.88" fill="#00ffff" stroke="#0030ff" stroke-width="1.15"/>
<circle cx="308.2" cy="335.8" r="1.88" fill="#00ffff" stroke="#0030ff" stroke-width="1.15"/>
<circle cx="308.2" cy="350.3" r="1.88" fill="#00ffff" stroke="#0030ff" stroke-width="1.15"/>
<circle cx="303.8" cy="360.7" r="1.88" fill="#00ffff" stroke="#0030ff" stroke-width="1.15"/>
<circle cx="312.1" cy="359.5" r="1.88" fill="#00ffff" stroke="#0030ff" stroke-width="1.15"/>
<circle cx="303.8" cy="366.9" r="1.88" fill="#00ffff" stroke="#0030ff" stroke-width="1.15"/>
<circle cx="312.1" cy="366" r="1.88" fill="#00ffff" stroke="#0030ff" stroke-width="1.15"/>
<circle cx="326.3" cy="340.8" r="1.88" fill="#00ffff" stroke="#0030ff" stroke-width="1.15"/>
<circle cx="326.3" cy="348.2" r="1.88" fill="#00ffff" stroke="#0030ff" stroke-width="1.15"/>
<circle cx="322.5" cy="357.7" r="1.88" fill="#00ffff" stroke="#0030ff" stroke-width="1.15"/>
<circle cx="330.5" cy="357.7" r="1.88" fill="#00ffff" stroke="#0030ff" stroke-width="1.15"/>
<circle cx="326.3" cy="360.7" r="1.88" fill="#00ffff" stroke="#0030ff" stroke-width="1.15"/>
<circle cx="326.3" cy="367.8" r="1.88" fill="#00ffff" stroke="#0030ff" stroke-width="1.15"/>
<path d="M252.00 296.60L252.00 294.10M252.00 296.60L254.38 295.83M252.00 296.60L253.47 298.62M252.00 296.60L250.53 298.62M252.00 296.60L249.62 295.83" stroke="#111" stroke-width="1.35" stroke-linecap="round" fill="none"/>
<path d="M272.20 296.60L272.20 294.10M272.20 296.60L274.58 295.83M272.20 296.60L273.67 298.62M272.20 296.60L270.73 298.62M272.20 296.60L269.82 295.83" stroke="#111" stroke-width="1.35" stroke-linecap="round" fill="none"/>
<path d="M290.20 296.60L290.20 294.10M290.20 296.60L292.58 295.83M290.20 296.60L291.67 298.62M290.20 296.60L288.73 298.62M290.20 296.60L287.82 295.83" stroke="#111" stroke-width="1.35" stroke-linecap="round" fill="none"/>
<path d="M309.50 291.60V299.90M307.00 294.20H312.00" stroke="#111" stroke-width="1.15" fill="none"/>
<path d="M326.10 291.60V299.90M323.60 294.20H328.60" stroke="#111" stroke-width="1.15" fill="none"/>
<text x="189.7" y="347.0" font-size="9.5" text-anchor="middle" fill="#1a1a1a" stroke="#1a1a1a" stroke-width="0.18" transform="rotate(-90 189.7 347.0)">MAP change (mm Hg)</text>
<line x1="388.4" y1="296.8" x2="388.4" y2="393.0" stroke="#555" stroke-width="1"/>
<line x1="386.0" y1="296.80" x2="388.4" y2="296.80" stroke="#444" stroke-width="1"/>
<text x="380.5" y="299.92" font-size="9.2" text-anchor="end" fill="#1a1a1a" stroke="#1a1a1a" stroke-width="0.18">24</text>
<line x1="386.0" y1="312.83" x2="388.4" y2="312.83" stroke="#444" stroke-width="1"/>
<text x="380.5" y="315.95" font-size="9.2" text-anchor="end" fill="#1a1a1a" stroke="#1a1a1a" stroke-width="0.18">18</text>
<line x1="386.0" y1="328.87" x2="388.4" y2="328.87" stroke="#444" stroke-width="1"/>
<text x="380.5" y="331.99" font-size="9.2" text-anchor="end" fill="#1a1a1a" stroke="#1a1a1a" stroke-width="0.18">12</text>
<line x1="386.0" y1="344.90" x2="388.4" y2="344.90" stroke="#444" stroke-width="1"/>
<text x="380.5" y="348.02" font-size="9.2" text-anchor="end" fill="#1a1a1a" stroke="#1a1a1a" stroke-width="0.18">6</text>
<line x1="386.0" y1="360.93" x2="388.4" y2="360.93" stroke="#444" stroke-width="1"/>
<text x="380.5" y="364.05" font-size="9.2" text-anchor="end" fill="#1a1a1a" stroke="#1a1a1a" stroke-width="0.18">0</text>
<line x1="386.0" y1="376.97" x2="388.4" y2="376.97" stroke="#444" stroke-width="1"/>
<text x="380.5" y="380.09" font-size="9.2" text-anchor="end" fill="#1a1a1a" stroke="#1a1a1a" stroke-width="0.18">-6</text>
<line x1="386.0" y1="393.00" x2="388.4" y2="393.00" stroke="#444" stroke-width="1"/>
<text x="380.5" y="396.12" font-size="9.2" text-anchor="end" fill="#1a1a1a" stroke="#1a1a1a" stroke-width="0.18">-12</text>
<line x1="388.4" y1="360.9" x2="510.8" y2="360.9" stroke="#999" stroke-width="1.2"/>
<rect x="396.3" y="360.3" width="14.699999999999989" height="0.60" fill="#e4e4e4" stroke="#1a1a1a" stroke-width="0.8"/>
<line x1="403.65" y1="360.3" x2="403.65" y2="353.7" stroke="#444" stroke-width="0.9"/>
<line x1="401.15" y1="353.7" x2="406.15" y2="353.7" stroke="#444" stroke-width="0.9"/>
<rect x="414.7" y="334.3" width="14.300000000000011" height="26.60" fill="#fdefdd" stroke="#3a3a3a" stroke-width="0.8"/>
<line x1="421.85" y1="334.3" x2="421.85" y2="327.5" stroke="#444" stroke-width="0.9"/>
<line x1="419.35" y1="327.5" x2="424.35" y2="327.5" stroke="#444" stroke-width="0.9"/>
<rect x="433.4" y="336.4" width="14.200000000000045" height="24.50" fill="#94f094" stroke="#3a3a3a" stroke-width="0.8"/>
<line x1="440.5" y1="336.4" x2="440.5" y2="330.4" stroke="#444" stroke-width="0.9"/>
<line x1="438.0" y1="330.4" x2="443.0" y2="330.4" stroke="#444" stroke-width="0.9"/>
<rect x="451.6" y="331.3" width="14.5" height="29.60" fill="#55f8f8" stroke="#3a3a3a" stroke-width="0.8"/>
<line x1="458.85" y1="331.3" x2="458.85" y2="323.9" stroke="#444" stroke-width="0.9"/>
<line x1="456.35" y1="323.9" x2="461.35" y2="323.9" stroke="#444" stroke-width="0.9"/>
<rect x="470.3" y="360.9" width="14.199999999999989" height="3.60" fill="#f88078" stroke="#3a3a3a" stroke-width="0.8"/>
<line x1="477.4" y1="364.5" x2="477.4" y2="366.0" stroke="#444" stroke-width="0.9"/>
<line x1="474.9" y1="366.0" x2="479.9" y2="366.0" stroke="#444" stroke-width="0.9"/>
<rect x="489.0" y="354.2" width="14.5" height="6.70" fill="#c40000" stroke="#3a3a3a" stroke-width="0.8"/>
<line x1="496.25" y1="354.2" x2="496.25" y2="349.7" stroke="#444" stroke-width="0.9"/>
<line x1="493.75" y1="349.7" x2="498.75" y2="349.7" stroke="#444" stroke-width="0.9"/>
<circle cx="399.3" cy="342.9" r="1.88" fill="#00ffff" stroke="#0030ff" stroke-width="1.15"/>
<circle cx="407.3" cy="345.3" r="1.88" fill="#00ffff" stroke="#0030ff" stroke-width="1.15"/>
<circle cx="399.3" cy="355.6" r="1.88" fill="#00ffff" stroke="#0030ff" stroke-width="1.15"/>
<circle cx="407.3" cy="359.5" r="1.88" fill="#00ffff" stroke="#0030ff" stroke-width="1.15"/>
<circle cx="403.1" cy="372.6" r="1.88" fill="#00ffff" stroke="#0030ff" stroke-width="1.15"/>
<circle cx="403.1" cy="383.8" r="1.88" fill="#00ffff" stroke="#0030ff" stroke-width="1.15"/>
<circle cx="422.1" cy="308.2" r="1.88" fill="#00ffff" stroke="#0030ff" stroke-width="1.15"/>
<circle cx="422.1" cy="322.4" r="1.88" fill="#00ffff" stroke="#0030ff" stroke-width="1.15"/>
<circle cx="422.1" cy="334.9" r="1.88" fill="#00ffff" stroke="#0030ff" stroke-width="1.15"/>
<circle cx="418" cy="345.3" r="1.88" fill="#00ffff" stroke="#0030ff" stroke-width="1.15"/>
<circle cx="422.1" cy="347.6" r="1.88" fill="#00ffff" stroke="#0030ff" stroke-width="1.15"/>
<circle cx="426" cy="346.7" r="1.88" fill="#00ffff" stroke="#0030ff" stroke-width="1.15"/>
<circle cx="440.5" cy="317.7" r="1.88" fill="#00ffff" stroke="#0030ff" stroke-width="1.15"/>
<circle cx="440.5" cy="324.5" r="1.88" fill="#00ffff" stroke="#0030ff" stroke-width="1.15"/>
<circle cx="440.5" cy="332.8" r="1.88" fill="#00ffff" stroke="#0030ff" stroke-width="1.15"/>
<circle cx="436.4" cy="340.8" r="1.88" fill="#00ffff" stroke="#0030ff" stroke-width="1.15"/>
<circle cx="444.4" cy="342.9" r="1.88" fill="#00ffff" stroke="#0030ff" stroke-width="1.15"/>
<circle cx="440.5" cy="355.6" r="1.88" fill="#00ffff" stroke="#0030ff" stroke-width="1.15"/>
<circle cx="458.7" cy="308.2" r="1.88" fill="#00ffff" stroke="#0030ff" stroke-width="1.15"/>
<circle cx="458.7" cy="315.6" r="1.88" fill="#00ffff" stroke="#0030ff" stroke-width="1.15"/>
<circle cx="462.2" cy="329" r="1.88" fill="#00ffff" stroke="#0030ff" stroke-width="1.15"/>
<circle cx="454.8" cy="334.3" r="1.88" fill="#00ffff" stroke="#0030ff" stroke-width="1.15"/>
<circle cx="458.7" cy="343.8" r="1.88" fill="#00ffff" stroke="#0030ff" stroke-width="1.15"/>
<circle cx="458.7" cy="356.5" r="1.88" fill="#00ffff" stroke="#0030ff" stroke-width="1.15"/>
<circle cx="477.4" cy="344.4" r="1.88" fill="#00ffff" stroke="#0030ff" stroke-width="1.15"/>
<circle cx="477.4" cy="351.2" r="1.88" fill="#00ffff" stroke="#0030ff" stroke-width="1.15"/>
<circle cx="473.5" cy="368.4" r="1.88" fill="#00ffff" stroke="#0030ff" stroke-width="1.15"/>
<circle cx="477.4" cy="368.4" r="1.88" fill="#00ffff" stroke="#0030ff" stroke-width="1.15"/>
<circle cx="481.5" cy="368.4" r="1.88" fill="#00ffff" stroke="#0030ff" stroke-width="1.15"/>
<circle cx="477.4" cy="384.4" r="1.88" fill="#00ffff" stroke="#0030ff" stroke-width="1.15"/>
<circle cx="495.8" cy="337" r="1.88" fill="#00ffff" stroke="#0030ff" stroke-width="1.15"/>
<circle cx="495.8" cy="344.7" r="1.88" fill="#00ffff" stroke="#0030ff" stroke-width="1.15"/>
<circle cx="495.8" cy="351.2" r="1.88" fill="#00ffff" stroke="#0030ff" stroke-width="1.15"/>
<circle cx="491.9" cy="358.6" r="1.88" fill="#00ffff" stroke="#0030ff" stroke-width="1.15"/>
<circle cx="499.3" cy="358.6" r="1.88" fill="#00ffff" stroke="#0030ff" stroke-width="1.15"/>
<circle cx="495.8" cy="372" r="1.88" fill="#00ffff" stroke="#0030ff" stroke-width="1.15"/>
<path d="M422.40 296.90L422.40 294.40M422.40 296.90L424.78 296.13M422.40 296.90L423.87 298.92M422.40 296.90L420.93 298.92M422.40 296.90L420.02 296.13" stroke="#111" stroke-width="1.35" stroke-linecap="round" fill="none"/>
<path d="M442.30 296.90L442.30 294.40M442.30 296.90L444.68 296.13M442.30 296.90L443.77 298.92M442.30 296.90L440.83 298.92M442.30 296.90L439.92 296.13" stroke="#111" stroke-width="1.35" stroke-linecap="round" fill="none"/>
<path d="M460.20 296.90L460.20 294.40M460.20 296.90L462.58 296.13M460.20 296.90L461.67 298.92M460.20 296.90L458.73 298.92M460.20 296.90L457.82 296.13" stroke="#111" stroke-width="1.35" stroke-linecap="round" fill="none"/>
<path d="M479.50 292.20V300.50M477.00 294.80H482.00" stroke="#111" stroke-width="1.15" fill="none"/>
<path d="M495.80 292.20V300.50M493.30 294.80H498.30" stroke="#111" stroke-width="1.15" fill="none"/>
<text x="356.0" y="344.5" font-size="9.6" text-anchor="middle" fill="#1a1a1a" stroke="#1a1a1a" stroke-width="0.18" transform="rotate(-90 356.0 344.5)">HR change (beat/min)</text>
<rect x="314.2" y="253.50" width="21.8" height="4.1" fill="#e4e4e4" stroke="#555" stroke-width="0.9"/>
<text x="342.1" y="258.7" font-size="9.9" text-anchor="start" fill="#1a1a1a" stroke="#1a1a1a" stroke-width="0.18">PBS+PBS</text>
<rect x="314.2" y="264.40" width="21.8" height="4.1" fill="#fdefdd" stroke="#555" stroke-width="0.9"/>
<text x="342.1" y="269.6" font-size="9.9" text-anchor="start" fill="#1a1a1a" stroke="#1a1a1a" stroke-width="0.18">PBS+Asprosin</text>
<rect x="314.2" y="275.30" width="21.8" height="4.1" fill="#94f094" stroke="#555" stroke-width="0.9"/>
<text x="342.1" y="280.5" font-size="9.9" text-anchor="start" fill="#1a1a1a" stroke="#1a1a1a" stroke-width="0.18">DMSO+Asprosin</text>
<rect x="425.2" y="250.80" width="22.5" height="4.4" fill="#55f8f8" stroke="#555" stroke-width="0.9"/>
<text x="453.1" y="256.1" font-size="9.9" text-anchor="start" fill="#1a1a1a" stroke="#1a1a1a" stroke-width="0.18">db-cAMP+Asprosin</text>
<rect x="425.2" y="262.00" width="22.5" height="4.4" fill="#f88078" stroke="#555" stroke-width="0.9"/>
<text x="453.1" y="267.3" font-size="9.9" text-anchor="start" fill="#1a1a1a" stroke="#1a1a1a" stroke-width="0.18">SQ22536+Asprosin</text>
<rect x="425.2" y="273.20" width="22.5" height="4.4" fill="#c40000" stroke="#555" stroke-width="0.9"/>
<text x="453.1" y="278.5" font-size="9.9" text-anchor="start" fill="#1a1a1a" stroke="#1a1a1a" stroke-width="0.18">H89+Asprosin</text>
</svg>
</body></html>
